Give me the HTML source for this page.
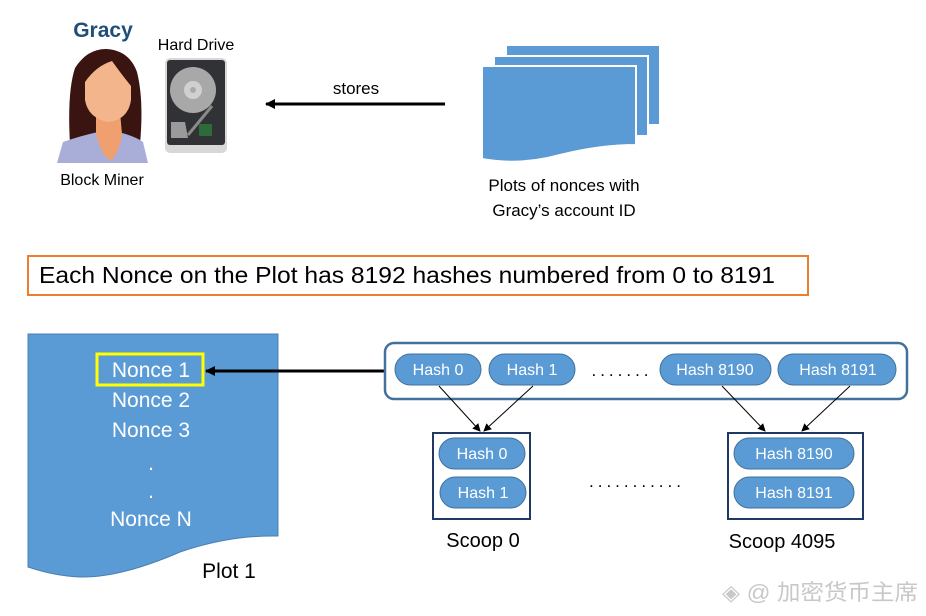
<!DOCTYPE html>
<html><head><meta charset="utf-8"><style>
html,body{margin:0;padding:0;background:#fff;}
svg{display:block;}
text{font-family:"Liberation Sans","Noto Sans CJK SC",sans-serif;}
</style></head><body>
<svg width="926" height="616" viewBox="0 0 926 616" xmlns="http://www.w3.org/2000/svg">
<defs>
<marker id="ah" markerWidth="10" markerHeight="10" refX="9" refY="5" orient="auto" markerUnits="userSpaceOnUse"><path d="M0,0 L10,5 L0,10 Z" fill="#000"/></marker>
<marker id="as" markerWidth="8" markerHeight="8" refX="7" refY="4" orient="auto" markerUnits="userSpaceOnUse"><path d="M0,0 L8,4 L0,8 Z" fill="#000"/></marker>
</defs>
<!-- Woman -->
<text x="103" y="37" text-anchor="middle" font-size="21" font-weight="bold" fill="#1f4e79">Gracy</text>
<path d="M70,144 Q67,92 75,68 Q87,49 106,49 Q129,50 137,72 Q144,100 140,144 Z" fill="#3a1410"/>
<path d="M57,163 L63,142 Q80,136 98,132 L118,132 Q135,136 143,142 L148,163 Z" fill="#a9aed8"/>
<path d="M96,112 L96,134 Q103,160 112,160 Q120,150 122,134 L120,112 Z" fill="#f0a06e"/>
<path d="M85,82 Q96,66 112,61 Q122,75 131,86 L131,100 Q128,120 108,122 Q88,118 85,100 Z" fill="#f3b58c"/>
<!-- HDD -->
<rect x="165" y="58" width="62" height="95" rx="5" fill="#d8d8d8"/>
<rect x="167" y="60" width="58" height="85" rx="3" fill="#303236"/>
<circle cx="193" cy="90" r="23" fill="#a8a8a8"/>
<circle cx="193" cy="90" r="9" fill="#d0d0d0"/>
<circle cx="193" cy="90" r="3" fill="#aaa"/>
<path d="M171,122 L185,122 L188,138 L171,138 Z" fill="#9a9a9a"/>
<path d="M188,135 L212,106" stroke="#8a8a8a" stroke-width="3"/>
<rect x="199" y="124" width="13" height="12" fill="#2e6b3a"/>
<text x="196" y="50" text-anchor="middle" font-size="16" fill="#000">Hard Drive</text>
<text x="102" y="185" text-anchor="middle" font-size="16" fill="#000">Block Miner</text>
<!-- stores arrow -->
<line x1="445" y1="104" x2="266" y2="104" stroke="#000" stroke-width="3" marker-end="url(#ah)"/>
<text x="356" y="94" text-anchor="middle" font-size="17" fill="#000">stores</text>
<!-- plot stack -->
<rect x="507" y="46" width="152" height="78" fill="#5b9bd5"/>
<rect x="494" y="56" width="154" height="80" fill="#5b9bd5" stroke="#fff" stroke-width="2"/>
<path d="M482,66 L636,66 L636,145 Q600,145 560,155 Q520,166 482,159 Z" fill="#5b9bd5" stroke="#fff" stroke-width="2"/>
<text x="564" y="191" text-anchor="middle" font-size="17" fill="#000">Plots of nonces with</text>
<text x="564" y="216" text-anchor="middle" font-size="17" fill="#000">Gracy’s account ID</text>
<!-- orange box -->
<rect x="28" y="256" width="780" height="39" fill="#fff" stroke="#ed7d31" stroke-width="2"/>
<text x="39" y="283" font-size="23" fill="#000" textLength="736" lengthAdjust="spacingAndGlyphs">Each Nonce on the Plot has 8192 hashes numbered from 0 to 8191</text>
<!-- Plot 1 -->
<path d="M28,334 L278,334 L278,536 Q230,535 180,552 Q120,578 80,577 Q55,576 28,567 Z" fill="#5b9bd5" stroke="#4a7fb0" stroke-width="1"/>
<rect x="97" y="354" width="106" height="31" fill="none" stroke="#ffff00" stroke-width="3"/>
<g font-size="21" fill="#fff" text-anchor="middle">
<text x="151" y="377">Nonce 1</text>
<text x="151" y="407">Nonce 2</text>
<text x="151" y="437">Nonce 3</text>
<text x="151" y="470">.</text>
<text x="151" y="498">.</text>
<text x="151" y="526">Nonce N</text>
</g>
<text x="229" y="578" text-anchor="middle" font-size="21" fill="#000">Plot 1</text>
<line x1="385" y1="371" x2="206" y2="371" stroke="#000" stroke-width="3" marker-end="url(#ah)"/>
<!-- hash container -->
<rect x="385" y="343" width="522" height="56" rx="9" fill="#fff" stroke="#41719c" stroke-width="2.5"/>
<g fill="#5b9bd5" stroke="#41719c" stroke-width="1">
<rect x="395" y="354" width="86" height="31" rx="15.5"/>
<rect x="489" y="354" width="86" height="31" rx="15.5"/>
<rect x="660" y="354" width="111" height="31" rx="15.5"/>
<rect x="778" y="354" width="118" height="31" rx="15.5"/>
<rect x="439" y="438" width="86" height="31" rx="15.5"/>
<rect x="440" y="477" width="86" height="31" rx="15.5"/>
<rect x="734" y="438" width="120" height="31" rx="15.5"/>
<rect x="734" y="477" width="120" height="31" rx="15.5"/>
</g>
<g font-size="16" fill="#fff" text-anchor="middle">
<text x="438" y="375">Hash 0</text>
<text x="532" y="375">Hash 1</text>
<text x="715" y="375">Hash 8190</text>
<text x="838" y="375">Hash 8191</text>
<text x="482" y="459">Hash 0</text>
<text x="483" y="498">Hash 1</text>
<text x="794" y="459">Hash 8190</text>
<text x="794" y="498">Hash 8191</text>
</g>
<text x="622" y="376" text-anchor="middle" font-size="17" fill="#000" letter-spacing="4">.......</text>
<text x="637" y="487" text-anchor="middle" font-size="17" fill="#000" letter-spacing="4">...........</text>
<rect x="433" y="433" width="97" height="86" fill="none" stroke="#1f3864" stroke-width="2"/>
<rect x="728" y="433" width="135" height="86" fill="none" stroke="#1f3864" stroke-width="2"/>
<g stroke="#000" stroke-width="1">
<line x1="439" y1="386" x2="480" y2="431" marker-end="url(#as)"/>
<line x1="533" y1="386" x2="484" y2="431" marker-end="url(#as)"/>
<line x1="722" y1="386" x2="765" y2="431" marker-end="url(#as)"/>
<line x1="850" y1="386" x2="802" y2="431" marker-end="url(#as)"/>
</g>
<text x="483" y="547" text-anchor="middle" font-size="20" fill="#000">Scoop 0</text>
<text x="782" y="548" text-anchor="middle" font-size="20" fill="#000">Scoop 4095</text>
<!-- watermark -->
<text x="722" y="600" font-size="22" fill="#c8c8c8" textLength="196" lengthAdjust="spacingAndGlyphs">◈ @ 加密货币主席</text>
</svg>
</body></html>
